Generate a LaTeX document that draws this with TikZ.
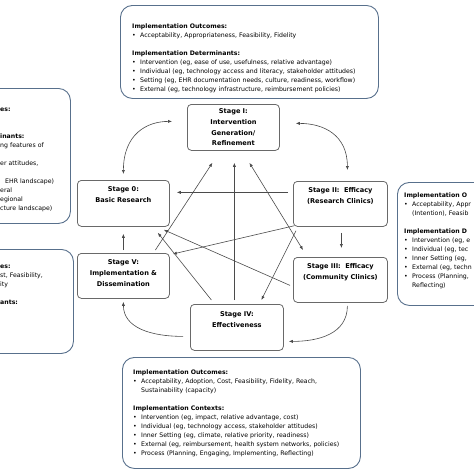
\documentclass[tikz,border=0pt]{standalone}
\usepackage{fontspec}
\setmainfont{DejaVu Sans}
\usetikzlibrary{arrows.meta}
\definecolor{boxblue}{RGB}{88,112,140}
\definecolor{stagegray}{RGB}{105,105,105}
\definecolor{arrowgray}{RGB}{75,75,75}
\newcommand{\infofont}{\fontsize{6.2}{9}\selectfont}
\newcommand{\stagefont}{\fontsize{6.6}{10.8}\selectfont\bfseries}
\newcommand{\ihead}[1]{\par\noindent{\bfseries #1}}
\newcommand{\iitem}[1]{\par\noindent\makebox[8pt][l]{\textbullet}#1}
\newcommand{\imore}[1]{\par\noindent\hspace*{8pt}#1}
\newcommand{\igap}{\par\vskip 9pt}

\begin{document}
\begin{tikzpicture}[x=1pt, y=-1pt, >={Latex[length=4pt,width=3.2pt]},
  stage/.style={draw=stagegray, line width=0.8pt, rounded corners=4pt, anchor=north west,
    font=\stagefont, align=center, text width=86pt, inner sep=3pt, text height=8.5pt, text depth=31.5pt},
  infobox/.style={draw=boxblue, line width=0.9pt, rounded corners=12pt, anchor=north west},
  infotext/.style={anchor=north west, inner sep=0pt, font=\infofont, align=left, text width=#1},
  conn/.style={draw=arrowgray, line width=0.6pt}]
\useasboundingbox (0,0) rectangle (474,474);
\clip (0,0) rectangle (474,474);

% outcome boxes
\node[infobox, minimum width=258pt, minimum height=93pt] (topbox) at (120,5) {};
\node[infotext=240pt] (toptext) at (132,19.5) {%
  \ihead{Implementation Outcomes:}
  \iitem{Acceptability, Appropriateness, Feasibility, Fidelity}
  \igap
  \ihead{Implementation Determinants:}
  \iitem{Intervention (eg, ease of use, usefulness, relative advantage)}
  \iitem{Individual (eg, technology access and literacy, stakeholder attitudes)}
  \iitem{Setting (eg, EHR documentation needs, culture, readiness, workflow)}
  \iitem{External (eg, technology infrastructure, reimbursement policies)}};

\node[infobox, minimum width=220pt, minimum height=135pt] (leftbox) at (-150,88) {};
\node[infotext=80pt] (lefttext) at (0,102.5) {%
  \ihead{es:}\par\mbox{}\par\mbox{}
  \ihead{inants:}\par
  ng features of\par\mbox{}\par
  er attitudes,\par\mbox{}\par
  \hspace*{5pt}EHR landscape)\par
  eral\par
  egional\par
  cture landscape)};

\node[infobox, minimum width=223pt, minimum height=104pt] (lowleftbox) at (-150,249) {};
\node[infotext=80pt] (lowlefttext) at (0,259.5) {%
  \ihead{es:}\par
  st, Feasibility,\par
  ity\par\mbox{}
  \ihead{ants:}};

\node[infobox, minimum width=200pt, minimum height=123pt] (rightbox) at (397,182) {};
\node[infotext=100pt] (righttext) at (404,188.5) {%
  \ihead{Implementation O}
  \iitem{Acceptability, Appr}
  \imore{(Intention), Feasib}
  \igap
  \ihead{Implementation D}
  \iitem{Intervention (eg, e}
  \iitem{Individual (eg, tec}
  \iitem{Inner Setting (eg,}
  \iitem{External (eg, techn}
  \iitem{Process (Planning,}
  \imore{Reflecting)}};

\node[infobox, minimum width=238pt, minimum height=111pt] (bottombox) at (122,357) {};
\node[infotext=225pt] (bottomtext) at (133,365.5) {%
  \ihead{Implementation Outcomes:}
  \iitem{Acceptability, Adoption, Cost, Feasibility, Fidelity, Reach,}
  \imore{Sustainability (capacity)}
  \igap
  \ihead{Implementation Contexts:}
  \iitem{Intervention (eg, impact, relative advantage, cost)}
  \iitem{Individual (eg, technology access, stakeholder attitudes)}
  \iitem{Inner Setting (eg, climate, relative priority, readiness)}
  \iitem{External (eg, reimbursement, health system networks, policies)}
  \iitem{Process (Planning, Engaging, Implementing, Reflecting)}};

% stages
\node[stage, text height=6pt, text depth=34pt] (stageI) at (187,104) {Stage I:\\Intervention\\Generation/\\Refinement};
\node[stage] (stage0) at (77,180) {Stage 0:\\Basic Research};
\node[stage, text width=88pt, text depth=30.5pt] (stageII) at (293,181) {Stage II:~ Efficacy\\(Research Clinics)};
\node[stage, text width=88pt, text height=8pt, text depth=31pt] (stageIII) at (293,257) {Stage III:~ Efficacy\\(Community Clinics)};
\node[stage, text width=87pt, text height=9.5pt, text depth=30.5pt] (stageIV) at (190,304) {Stage IV:\\Effectiveness};
\node[stage, text depth=30.5pt] (stageV) at (77,253) {Stage V:\\Implementation \&\\Dissemination};

% outer cycle
\draw[conn, <->] ([yshift=6pt]stage0.north) .. controls +(0,-40) and +(-25,0) .. ([xshift=-15pt, yshift=6pt]stageI.west);
\draw[conn, <->] ([xshift=16pt, yshift=4pt]stageI.east) .. controls +(28,0) and +(0,-35) .. ([xshift=7pt, yshift=11pt]stageII.north);
\draw[conn, ->, shorten <=6pt, shorten >=9pt] ([xshift=1pt]stageII.south) -- ([xshift=1pt]stageIII.north);
\draw[conn, ->] ([xshift=7pt, yshift=-3pt]stageIII.south) .. controls +(0,28) and +(30,0) .. ([xshift=5pt, yshift=-14pt]stageIV.east);
\draw[conn, ->] ([xshift=-7pt, yshift=-9pt]stageIV.west) .. controls +(-32,0) and +(0,26) .. ([yshift=-3pt]stageV.south);
\draw[conn, ->, shorten <=3pt, shorten >=7pt] (stageV.north) -- (stage0.south);

% inner links
\draw[conn, ->] ([xshift=-5pt, yshift=11.5pt]stageII.west) -- ([xshift=7pt, yshift=11pt]stage0.east);
\draw[conn, ->] ([xshift=32pt, yshift=3pt]stageV.north) -- ([xshift=-21pt, yshift=-12pt]stageI.south);
\draw[conn, ->] ([xshift=-2.5pt, yshift=4pt]stageIV.north) -- ([xshift=1pt, yshift=-12pt]stageI.south);
\draw[conn, <->] ([xshift=16pt, yshift=-12pt]stageI.south) -- ([xshift=10pt, yshift=7pt]stageIII.north west);
\draw[conn, ->] ([xshift=3pt, yshift=-4pt]stageII.south west) -- ([xshift=24.5pt, yshift=4pt]stageIV.north);
\draw[conn, ->] ([xshift=1pt, yshift=1pt]stageII.south west) -- ([xshift=3pt, yshift=-1pt]stageV.north east);
\draw[conn, ->] ([xshift=-25.5pt, yshift=4pt]stageIV.north) -- ([xshift=-12pt, yshift=-6pt]stage0.south east);
\draw[conn, ->] ([xshift=-3pt, yshift=-5.5pt]stageIII.west) -- ([xshift=-6pt, yshift=-3pt]stage0.south east);
\end{tikzpicture}
\end{document}
